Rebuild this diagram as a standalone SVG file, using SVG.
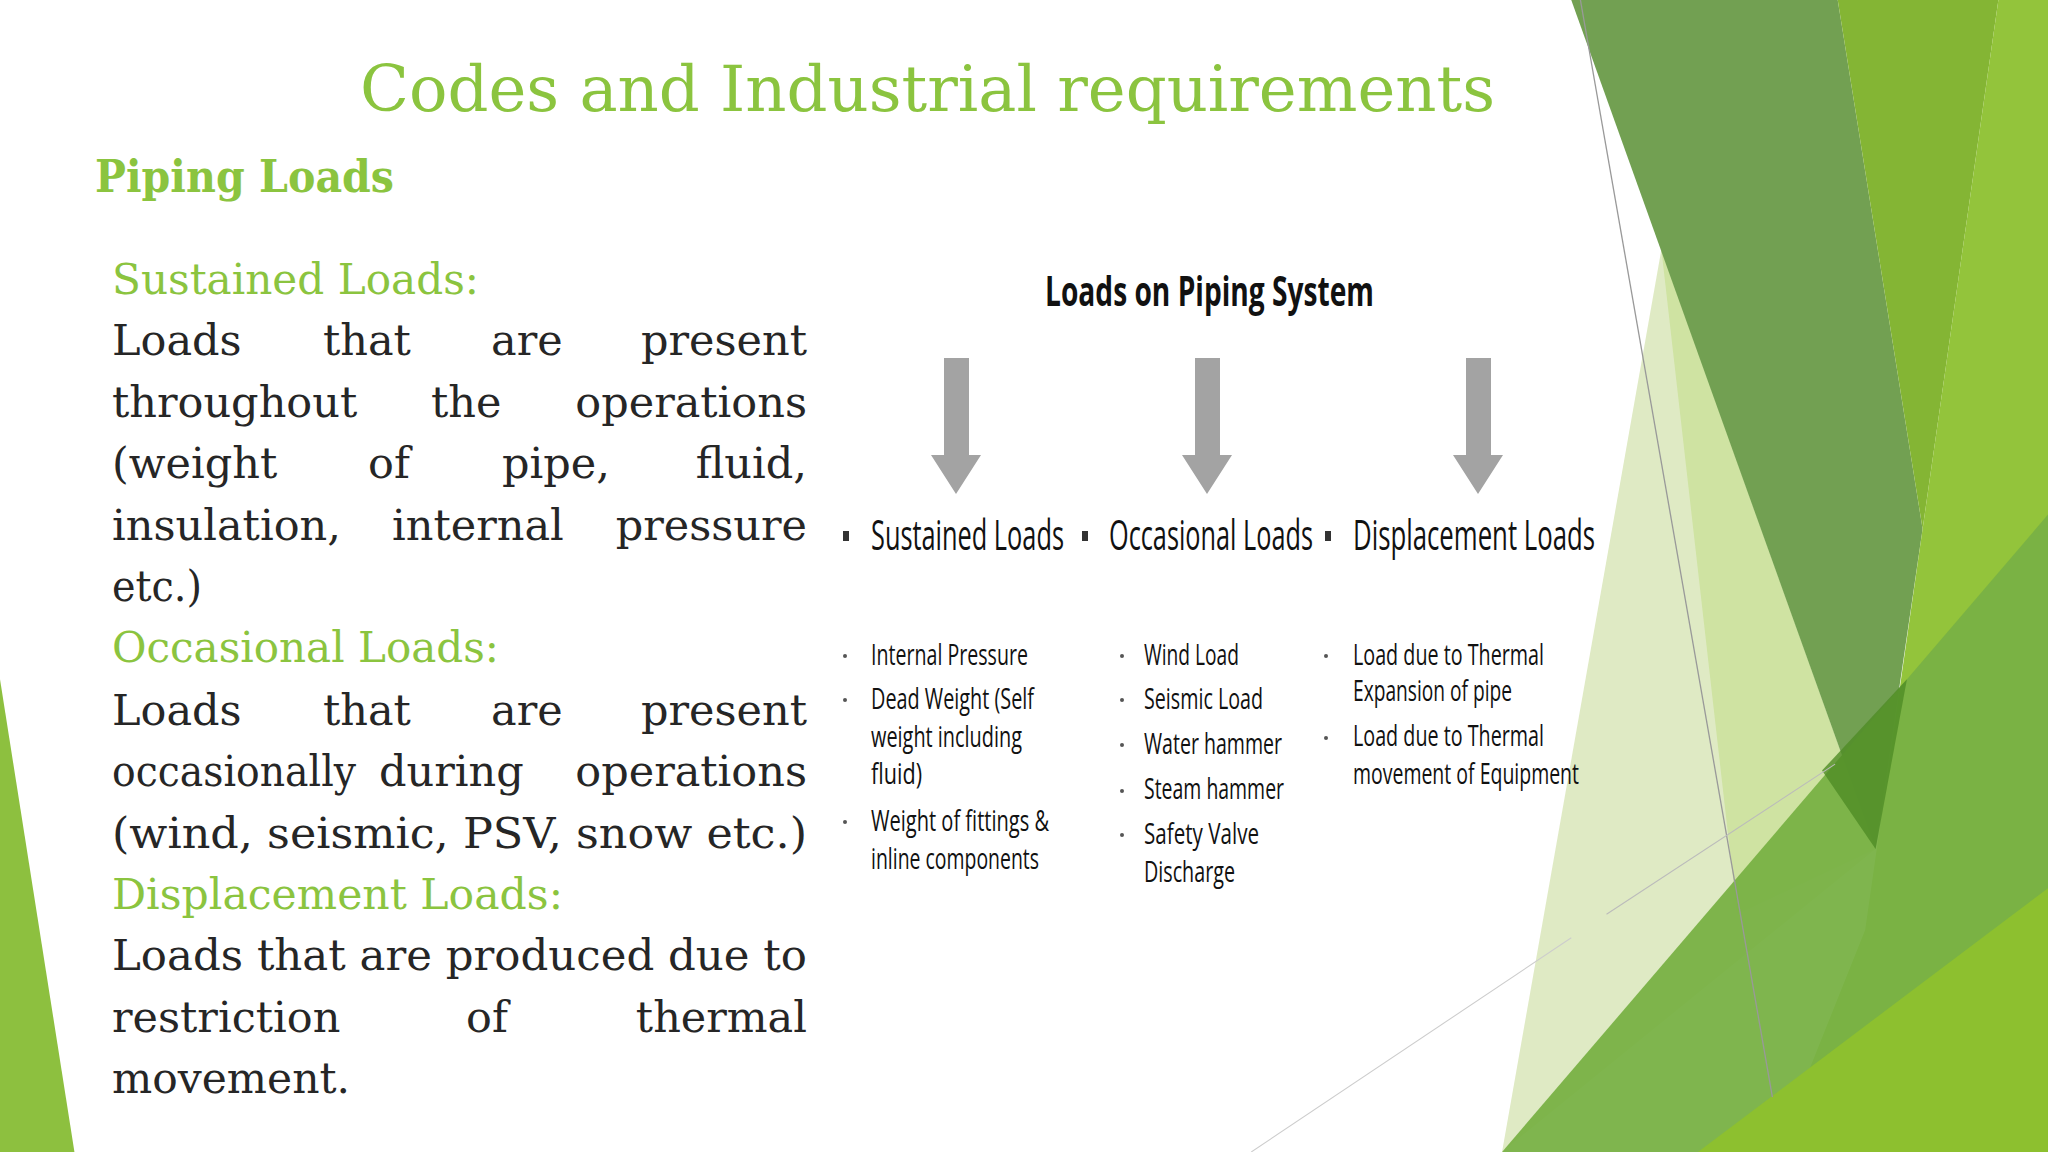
<svg xmlns="http://www.w3.org/2000/svg" width="2048" height="1152" viewBox="0 0 2048 1152">
<style>
.ser{font-family:"DejaVu Serif","Liberation Serif",serif}
.g{fill:#8bc43f}
.b{fill:#262626}
.sans{font-family:"Open Sans","DejaVu Sans",sans-serif;fill:#111}
.h{font-size:42px}
.it{font-size:29px}
.arr{fill:#a3a3a3}
</style>
<rect width="2048" height="1152" fill="#fff"/>
<g id="background" transform="scale(1.30612)">
<polygon points="1272,191 1436,650 1150,882" fill="#dfeac4"/>
<polygon points="1272,191 1436,650 1330,700" fill="#cfe3a2"/>
<polygon points="1203,0 1407,0 1472,405 1436,650" fill="#72a052"/>
<polygon points="1407,0 1530,0 1472,405" fill="#84b534"/>
<polygon points="1530,0 1568,0 1568,882 1360,882 1428,712" fill="#93c43b"/>
<polygon points="1150,882 1568,394 1568,882" fill="#78b144" opacity="0.95"/>
<polygon points="1300,882 1568,680 1568,882" fill="#8dc02f"/>
<polygon points="1395,590 1436,650 1460,520" fill="#4f8c26" opacity="0.8"/>
<polygon points="0,520 0,882 57,882" fill="#8dc03f"/>
<line x1="1210" y1="0" x2="1357" y2="840" stroke="#999" stroke-width="1"/>
<line x1="1230" y1="700" x2="1405" y2="585" stroke="#bbb" stroke-width="0.8"/>
<line x1="958" y1="882" x2="1203" y2="718" stroke="#ccc" stroke-width="0.8"/>
</g>
<g id="titles">
<text class="ser g" x="360" y="111" font-size="64" textLength="1135" lengthAdjust="spacingAndGlyphs">Codes and Industrial requirements</text>
<text class="ser g" x="95" y="192" font-size="44" font-weight="bold" textLength="299" lengthAdjust="spacingAndGlyphs">Piping Loads</text>
</g>
<g id="body-text" class="ser" font-size="43">
<text class="g" x="112" y="294" textLength="367" lengthAdjust="spacingAndGlyphs">Sustained Loads:</text>
<text class="b" y="355"><tspan x="112">Loads</tspan><tspan x="323">that</tspan><tspan x="491">are</tspan></text>
<text class="b" x="807" y="355" text-anchor="end">present</text>
<text class="b" y="417"><tspan x="112">throughout</tspan><tspan x="431">the</tspan></text>
<text class="b" x="807" y="417" text-anchor="end">operations</text>
<text class="b" y="478"><tspan x="112">(weight</tspan><tspan x="368">of</tspan><tspan x="502">pipe,</tspan></text>
<text class="b" x="807" y="478" text-anchor="end">fluid,</text>
<text class="b" y="540"><tspan x="112">insulation,</tspan><tspan x="392">internal</tspan></text>
<text class="b" x="807" y="540" text-anchor="end">pressure</text>
<text class="b" x="112" y="601" textLength="90" lengthAdjust="spacingAndGlyphs">etc.)</text>
<text class="g" x="112" y="662" textLength="387" lengthAdjust="spacingAndGlyphs">Occasional Loads:</text>
<text class="b" y="725"><tspan x="112">Loads</tspan><tspan x="323">that</tspan><tspan x="491">are</tspan></text>
<text class="b" x="807" y="725" text-anchor="end">present</text>
<text class="b" x="112" y="786" textLength="244" lengthAdjust="spacingAndGlyphs">occasionally</text>
<text class="b" x="379" y="786">during</text>
<text class="b" x="807" y="786" text-anchor="end">operations</text>
<text class="b" x="112" y="848" textLength="695" lengthAdjust="spacingAndGlyphs">(wind, seismic, PSV, snow etc.)</text>
<text class="g" x="112" y="909" textLength="451" lengthAdjust="spacingAndGlyphs">Displacement Loads:</text>
<text class="b" x="112" y="970" textLength="695" lengthAdjust="spacingAndGlyphs">Loads that are produced due to</text>
<text class="b" y="1032"><tspan x="112">restriction</tspan><tspan x="466">of</tspan></text>
<text class="b" x="807" y="1032" text-anchor="end">thermal</text>
<text class="b" x="112" y="1093" textLength="238" lengthAdjust="spacingAndGlyphs">movement.</text>
</g>
<g id="chart-title">
<text class="sans" x="1045" y="306" font-size="42" font-weight="bold" textLength="329" lengthAdjust="spacingAndGlyphs">Loads on Piping System</text>
</g>
<g id="connectors">
<polygon class="arr" points="944,358 969,358 969,455 981,455 956,494 931,455 944,455"/>
<polygon class="arr" points="1195,358 1220,358 1220,455 1232,455 1207,494 1182,455 1195,455"/>
<polygon class="arr" points="1466,358 1491,358 1491,455 1503,455 1478,494 1453,455 1466,455"/>
</g>
<g id="sustained">
<rect x="843" y="531" width="6" height="10" fill="#333"/>
<text class="sans h" x="871" y="550" textLength="193" lengthAdjust="spacingAndGlyphs">Sustained Loads</text>
<g fill="#555"><circle cx="845" cy="656" r="2"/><circle cx="845" cy="700" r="2"/><circle cx="845" cy="822" r="2"/></g>
<text class="sans it" x="871" y="665" textLength="157" lengthAdjust="spacingAndGlyphs">Internal Pressure</text>
<text class="sans it" x="871" y="709" textLength="163" lengthAdjust="spacingAndGlyphs">Dead Weight (Self</text>
<text class="sans it" x="871" y="747" textLength="151" lengthAdjust="spacingAndGlyphs">weight including</text>
<text class="sans it" x="871" y="784" textLength="51" lengthAdjust="spacingAndGlyphs">fluid)</text>
<text class="sans it" x="871" y="831" textLength="178" lengthAdjust="spacingAndGlyphs">Weight of fittings &amp;</text>
<text class="sans it" x="871" y="869" textLength="168" lengthAdjust="spacingAndGlyphs">inline components</text>
</g>
<g id="occasional">
<rect x="1082" y="531" width="6" height="10" fill="#333"/>
<text class="sans h" x="1109" y="550" textLength="204" lengthAdjust="spacingAndGlyphs">Occasional Loads</text>
<g fill="#555"><circle cx="1122" cy="656" r="2"/><circle cx="1122" cy="700" r="2"/><circle cx="1122" cy="745" r="2"/><circle cx="1122" cy="791" r="2"/><circle cx="1122" cy="835" r="2"/></g>
<text class="sans it" x="1144" y="665" textLength="95" lengthAdjust="spacingAndGlyphs">Wind Load</text>
<text class="sans it" x="1144" y="709" textLength="119" lengthAdjust="spacingAndGlyphs">Seismic Load</text>
<text class="sans it" x="1144" y="754" textLength="138" lengthAdjust="spacingAndGlyphs">Water hammer</text>
<text class="sans it" x="1144" y="799" textLength="140" lengthAdjust="spacingAndGlyphs">Steam hammer</text>
<text class="sans it" x="1144" y="844" textLength="115" lengthAdjust="spacingAndGlyphs">Safety Valve</text>
<text class="sans it" x="1144" y="882" textLength="91" lengthAdjust="spacingAndGlyphs">Discharge</text>
</g>
<g id="displacement">
<rect x="1325" y="531" width="6" height="10" fill="#333"/>
<text class="sans h" x="1353" y="550" textLength="242" lengthAdjust="spacingAndGlyphs">Displacement Loads</text>
<g fill="#555"><circle cx="1326" cy="656" r="2"/><circle cx="1326" cy="738" r="2"/></g>
<text class="sans it" x="1353" y="665" textLength="191" lengthAdjust="spacingAndGlyphs">Load due to Thermal</text>
<text class="sans it" x="1353" y="701" textLength="159" lengthAdjust="spacingAndGlyphs">Expansion of pipe</text>
<text class="sans it" x="1353" y="746" textLength="191" lengthAdjust="spacingAndGlyphs">Load due to Thermal</text>
<text class="sans it" x="1353" y="784" textLength="226" lengthAdjust="spacingAndGlyphs">movement of Equipment</text>
</g>
</svg>
